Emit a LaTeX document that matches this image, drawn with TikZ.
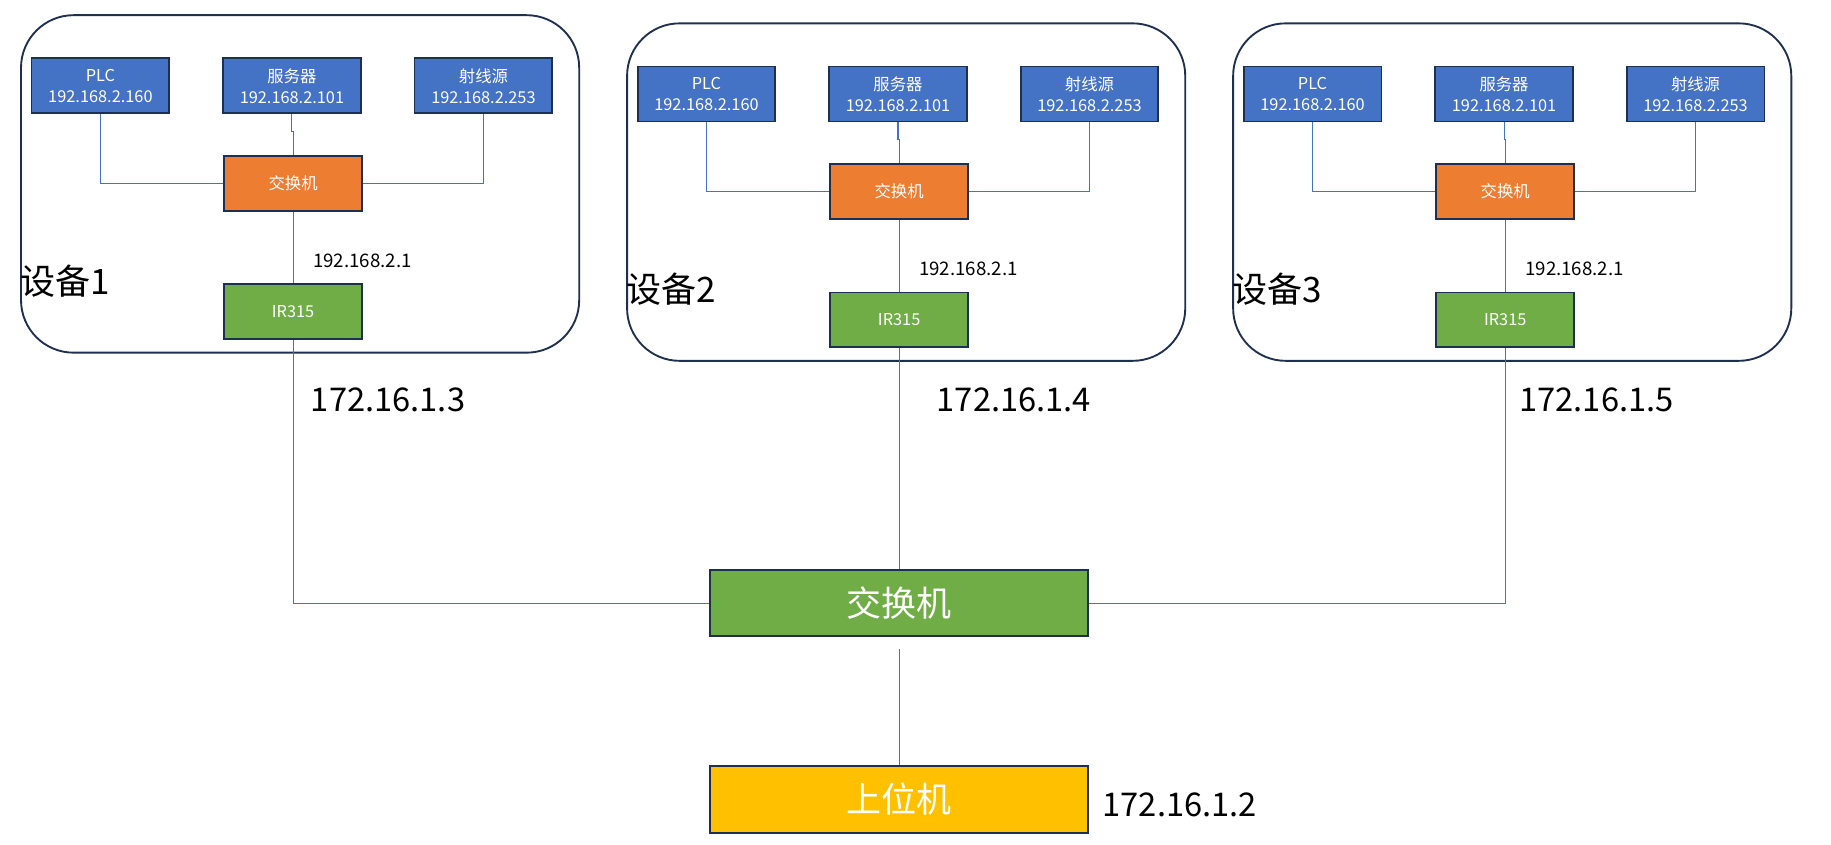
\documentclass[tikz,border=0pt]{standalone}
\usepackage{fontspec}
\setmainfont{Noto Sans CJK SC}
\definecolor{cblue}{HTML}{4472C4}
\definecolor{corange}{HTML}{ED7D31}
\definecolor{cgreen}{HTML}{70AD47}
\definecolor{cgold}{HTML}{FFC000}
\definecolor{cedge}{HTML}{1F2F4F}
\begin{document}
\begin{tikzpicture}[x=1pt,y=-1pt,
  container/.style={draw=cedge,line width=1.6pt,rounded corners=45pt},
  devbox/.style={draw=cedge,line width=1.6pt,minimum width=118pt,minimum height=47pt,inner sep=0pt,text=white,align=center,font=\fontsize{14}{18}\selectfont},
  bluebox/.style={devbox,fill=cblue},
  orangebox/.style={devbox,fill=corange},
  greenbox/.style={devbox,fill=cgreen},
  bigbox/.style={draw=cedge,line width=1.6pt,minimum width=324pt,minimum height=57pt,inner sep=0pt,text=white,font=\fontsize{30}{34}\selectfont},
  wire/.style={draw=cblue,line width=0.9pt},
  smalllbl/.style={anchor=west,inner sep=0pt,font=\fontsize{16}{19}\selectfont},
  biglbl/.style={anchor=west,inner sep=0pt,font=\fontsize{28}{32}\selectfont}
]
\useasboundingbox (0,0) rectangle (1568,723);
\foreach \i/\dx/\dy in {1/0/0,2/519/7,3/1038/7}{
  \begin{scope}[shift={(\dx,\dy)}]
    \draw[container] (18,13) rectangle (496,302);
    \node[bluebox] (plc\i) at (86,73.5) {PLC\\192.168.2.160};
    \node[bluebox] (srv\i) at (250,73.5) {服务器\\192.168.2.101};
    \node[bluebox] (ray\i) at (414,73.5) {射线源\\192.168.2.253};
    \node[orangebox] (sw\i) at (251,157) {交换机};
    \node[greenbox] (ir\i) at (251,267) {IR315};
    \node[smalllbl] (gw\i) at (268,223) {192.168.2.1};
    \node[biglbl,font=\fontsize{30}{34}\selectfont] (dev\i) at (17,241) {设备\i};
    \draw[wire] (plc\i.south) |- (sw\i.west);
    \draw[wire] (srv\i.south) -- ++(0,15) -| (sw\i.north);
    \draw[wire] (ray\i.south) |- (sw\i.east);
    \draw[wire] (sw\i.south) -- (ir\i.north);
  \end{scope}
}
\node[biglbl] (ip1) at (266,342) {172.16.1.3};
\node[biglbl] (ip2) at (802,342) {172.16.1.4};
\node[biglbl] (ip3) at (1301,342) {172.16.1.5};
\node[bigbox,fill=cgreen] (main) at (770,516.5) {交换机};
\node[bigbox,fill=cgold] (host) at (770,684.5) {上位机};
\node[biglbl] (ip0) at (944,689) {172.16.1.2};
\coordinate (gapstart) at ([yshift=-10pt]main.south);
\draw[wire] (ir1.south) |- (main.west);
\draw[wire] (ir2.south) -- (main.north);
\draw[wire] (ir3.south) |- (main.east);
\draw[wire] (gapstart) -- (host.north);
\end{tikzpicture}
\end{document}
